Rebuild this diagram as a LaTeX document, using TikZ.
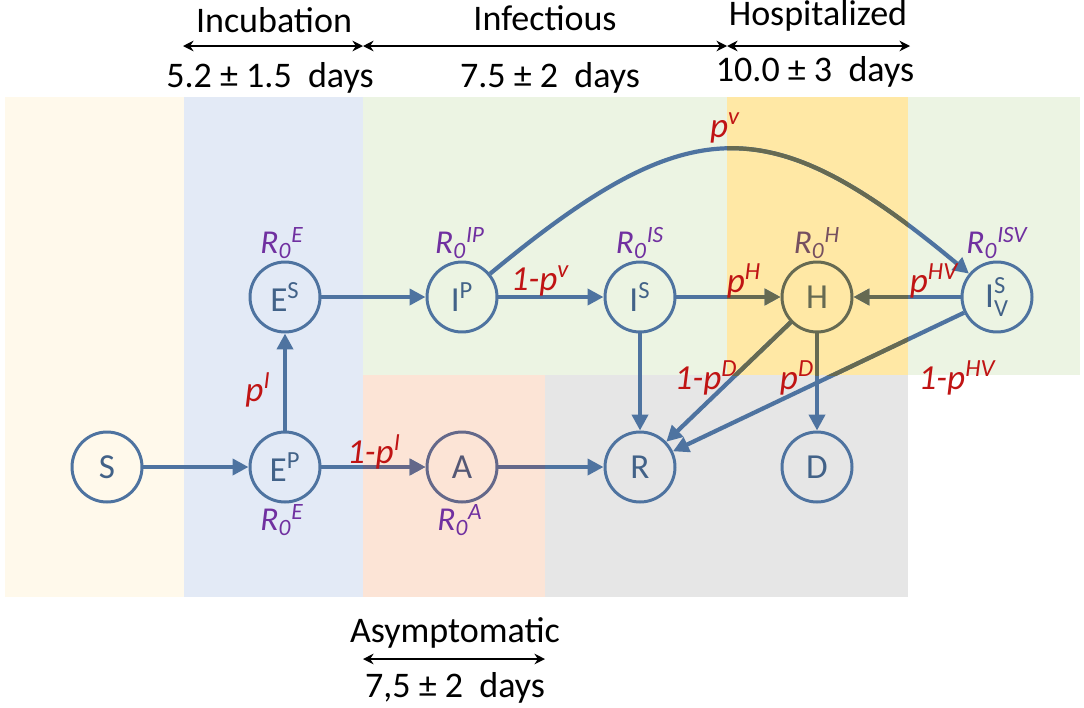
\documentclass[tikz,border=0pt]{standalone}
\usepackage{amsmath}
\usepackage{fontspec}
\setmainfont{Carlito}
\usetikzlibrary{arrows.meta,positioning}

\definecolor{bgcream}{RGB}{255,249,235}
\definecolor{bgblue}{RGB}{227,234,246}
\definecolor{bggreen}{RGB}{236,244,227}
\definecolor{bgyellow}{RGB}{255,232,165}
\definecolor{bgorange}{RGB}{252,228,214}
\definecolor{bggrey}{RGB}{230,230,230}
\definecolor{flowblue}{RGB}{78,115,160}
\definecolor{flowolive}{RGB}{102,106,82}
\definecolor{flowmauve}{RGB}{100,104,138}
\definecolor{ratepurple}{RGB}{112,48,160}
\definecolor{probred}{RGB}{192,20,20}

\tikzset{
  comp/.style={circle, draw=flowblue, line width=1.7pt, minimum size=1.4cm, inner sep=0pt,
    text=flowblue!85!black, font=\fontsize{20}{24}\selectfont},
  flow/.style={draw=flowblue, line width=2.4pt, -{Triangle[length=9pt,width=9pt]}},
  rate/.style={text=ratepurple, font=\fontsize{19}{22}\selectfont\itshape},
  prob/.style={text=probred, font=\fontsize{20}{23}\selectfont\itshape},
  span/.style={black, line width=0.9pt, {Stealth[length=6pt,width=6pt]}-{Stealth[length=6pt,width=6pt]}},
  period/.style={font=\fontsize{20.5}{24}\selectfont},
}

% all flows of the model, drawn once and again tinted inside the coloured bands
\newcommand\flowedges{%
  \draw[flow] (S) -- (EP);
  \draw[flow] (EP) -- (ES);
  \draw[flow] (ES) -- (IP);
  \draw[flow] (EP) -- (A);
  \draw[flow] (A) -- (R);
  \draw[flow] (IP) -- (IS);
  \draw[flow] (IS) -- (H);
  \draw[flow] (ISV) -- (H);
  \draw[flow] (IS) -- (R);
  \draw[flow] (H) -- (R);
  \draw[flow] (H) -- (D);
  \draw[flow] (ISV) -- (R);
  \draw[flow] (IP) .. controls (690,108) and (770,108) .. (ISV);
}

\begin{document}
\begin{tikzpicture}[x=0.02cm, y=-0.02cm]
  \useasboundingbox (0,0) rectangle (1084,707);

  % stage bands
  \fill[bgcream] (5,97) rectangle (184,597);
  \fill[bgblue] (184,97) rectangle (363,597);
  \fill[bggreen] (363,97) rectangle (1080,375);
  \fill[bgyellow] (727,97) rectangle (908,375);
  \fill[bgorange] (363,375) rectangle (545,597);
  \fill[bggrey] (545,375) rectangle (908,597);

  % durations
  \coordinate (inc-l) at (183,46);
  \coordinate (inc-r) at (363,46);
  \coordinate (inf-r) at (727,46);
  \coordinate (hos-r) at (910,46);
  \draw[span] (inc-l) -- (inc-r);
  \draw[span] (inc-r) -- (inf-r);
  \draw[span] (inf-r) -- (hos-r);
  \node[period] (incub) at (274,20) {Incubation};
  \node[period] (infec) at (545,18) {Infectious};
  \node[period] (hospi) at (818,16) {Hospitalized};
  \node[period] (incub-d) at (270,78) {5.2 ± 1.5\ \ days};
  \node[period] (infec-d) at (550,78) {7.5 ± 2\ \ days};
  \node[period] (hospi-d) at (815,72) {10.0 ± 3\ \ days};

  \coordinate (asy-l) at (363,659);
  \coordinate (asy-r) at (545,659);
  \draw[span] (asy-l) -- (asy-r);
  \node[period] (asymp) at (455,633) {Asymptomatic};
  \node[period] (asymp-d) at (455,688) {7,5 ± 2\ \ days};

  % compartments
  \node[comp] (S) at (107,467) {S};
  \node[comp] (EP) at (285,467) {E$^{\text{P}}$};
  \node[comp, draw=flowmauve, text=flowmauve!85!black] (A) at (462,467) {A};
  \node[comp] (R) at (640,467) {R};
  \node[comp] (D) at (817,467) {D};
  \node[comp] (ES) at (285,297) {E$^{\text{S}}$};
  \node[comp] (IP) at (462,297) {I$^{\text{P}}$};
  \node[comp] (IS) at (640,297) {I$^{\text{S}}$};
  \node[comp, draw=flowolive, text=flowolive] (H) at (817,297) {H};
  \node[comp] (ISV) at (997,297) {I$^{\text{S}}_{\text{V}}$};

  \flowedges
  \begin{scope}
    \clip (727,97) rectangle (908,375);
    \tikzset{flow/.append style={draw=flowolive}}
    \flowedges
  \end{scope}
  \begin{scope}
    \clip (363,375) rectangle (545,597);
    \tikzset{flow/.append style={draw=flowmauve}}
    \flowedges
  \end{scope}

  % reproduction numbers
  \node[rate] (r-es) at (282,243) {R\textsubscript{0}\textsuperscript{E}};
  \node[rate] (r-ip) at (460,243) {R\textsubscript{0}\textsuperscript{IP}};
  \node[rate] (r-is) at (640,243) {R\textsubscript{0}\textsuperscript{IS}};
  \node[rate, text=ratepurple!60!olive] (r-h) at (817,243) {R\textsubscript{0}\textsuperscript{H}};
  \node[rate] (r-isv) at (997,243) {R\textsubscript{0}\textsuperscript{ISV}};
  \node[rate] (r-ep) at (282,520) {R\textsubscript{0}\textsuperscript{E}};
  \node[rate] (r-a) at (460,520) {R\textsubscript{0}\textsuperscript{A}};

  % transition probabilities
  \node[prob] (p-i) at (258,390) {p\textsuperscript{I}};
  \node[prob] (q-i) at (374,452) {1-p\textsuperscript{I}};
  \node[prob] (q-v) at (540,281) {1-p\textsuperscript{v}};
  \node[prob] (p-h) at (744,281) {p\textsuperscript{H}};
  \node[prob] (p-hv) at (934,281) {p\textsuperscript{HV}};
  \node[prob] (q-d) at (706,378) {1-p\textsuperscript{D}};
  \node[prob] (p-d) at (797,378) {p\textsuperscript{D}};
  \node[prob] (q-hv) at (957,378) {1-p\textsuperscript{HV}};
  \node[prob] (p-v) at (725,128) {p\textsuperscript{v}};
\end{tikzpicture}
\end{document}
